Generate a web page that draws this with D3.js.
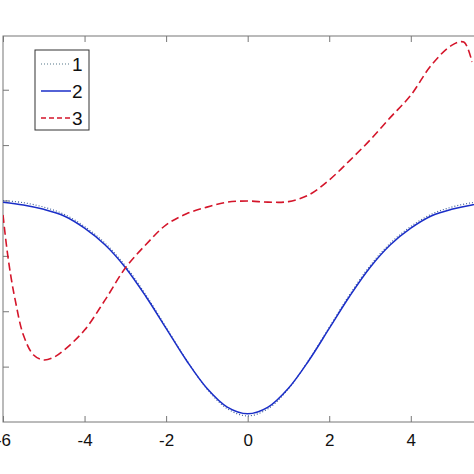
<!DOCTYPE html>
<html><head><meta charset="utf-8">
<script src="https://cdn.jsdelivr.net/npm/d3@7"></script>
<style>body{margin:0;background:#fff}svg{font-family:"Liberation Sans",Arial,sans-serif}</style>
</head><body><svg id="c" width="474" height="474"></svg>
<script>
var xs1 = [-6,-5.5,-5,-4.5,-4,-3.5,-3,-2.5,-2,-1.5,-1,-0.5,0,0.5,1,1.5,2,2.5,3,3.5,4,4.5,5,5.5,6];
var series1 = [4.0,3.96,3.88,3.75,3.53,3.23,2.82,2.30,1.71,1.12,0.60,0.24,0.11,0.24,0.60,1.12,1.71,2.30,2.82,3.23,3.53,3.75,3.88,3.96,4.0];
var series2 = [3.97,3.92,3.84,3.72,3.50,3.20,2.79,2.27,1.69,1.11,0.61,0.27,0.15,0.27,0.61,1.11,1.69,2.27,2.79,3.20,3.50,3.72,3.84,3.92,3.96];
var xs3 = [-6,-5.9,-5.8,-5.7,-5.5,-5.25,-5,-4.75,-4.5,-4,-3.5,-3,-2.5,-2,-1.5,-1,-0.5,0,0.5,1,1.5,2,2.5,3,3.5,4,4.5,5,5.3,5.5];
var series3 = [3.74,3.1,2.6,2.2,1.57,1.21,1.12,1.17,1.3,1.66,2.2,2.78,3.2,3.56,3.76,3.88,3.97,3.99,3.97,3.98,4.1,4.37,4.72,5.09,5.5,5.9,6.44,6.8,6.86,6.5];
var legendLabels = ['1','2','3'];

var svg = d3.select('#c');
var m = {l: 3, r: 0, t: 36, b: 52};
var w = 474 - m.l - m.r, h = 474 - m.t - m.b;
var x = d3.scaleLinear().domain([-6, 5.55]).range([0, w]);
var y = d3.scaleLinear().domain([0, 6.97]).range([h, 0]);
var g = svg.append('g').attr('transform', 'translate(' + m.l + ',' + m.t + ')');

g.append('rect').attr('width', w + 10).attr('height', h).attr('fill', 'none').attr('stroke', '#777');
var xa = g.append('g').attr('transform', 'translate(0,' + h + ')')
    .call(d3.axisBottom(x).tickValues([-6,-4,-2,0,2,4]).tickSize(-6).tickPadding(12)
        .tickFormat(function (d) { return String(d); }));
g.append('g').call(d3.axisTop(x).tickValues([-6,-4,-2,0,2,4]).tickSize(-6).tickFormat(''));
g.append('g').call(d3.axisLeft(y).tickValues([1,2,3,4,5,6]).tickSize(-6).tickFormat(''));
g.selectAll('.domain').remove();
g.selectAll('.tick line').attr('stroke', '#777');
xa.selectAll('text').attr('font-size', 17).attr('fill', '#111')
    .attr('font-family', '"Liberation Sans",Arial,sans-serif');

var line = function (xv) {
    return d3.line().x(function (d, i) { return x(xv[i]); }).y(function (d) { return y(d); }).curve(d3.curveCatmullRom);
};
svg.append('clipPath').attr('id', 'cl').append('rect').attr('width', w).attr('height', h);
var pg = g.append('g').attr('clip-path', 'url(#cl)');
pg.append('path').datum(series1).attr('d', line(xs1)).attr('fill', 'none').attr('stroke', '#3a5a9a').attr('stroke-width', 1.2).attr('stroke-dasharray', '1,2');
pg.append('path').datum(series2).attr('d', line(xs1)).attr('fill', 'none').attr('stroke', '#1a2ec8').attr('stroke-width', 1.5);
pg.append('path').datum(series3).attr('d', line(xs3)).attr('fill', 'none').attr('stroke', '#d4152a').attr('stroke-width', 1.6).attr('stroke-dasharray', '8,4');

// legend
var lg = g.append('g').attr('transform', 'translate(32,14)');
lg.append('rect').attr('width', 54).attr('height', 80).attr('fill', '#fff').attr('stroke', '#333');
var styles = [['#557788', '1,2', 1.2], ['#1a2ec8', null, 1.5], ['#d4152a', '5,3', 1.6]];
legendLabels.forEach(function (t, i) {
    var yy = 14 + i * 27;
    lg.append('line').attr('x1', 6).attr('x2', 36).attr('y1', yy).attr('y2', yy)
        .attr('stroke', styles[i][0]).attr('stroke-width', styles[i][2]).attr('stroke-dasharray', styles[i][1]);
    lg.append('text').attr('x', 37).attr('y', yy + 7).attr('font-size', 19).attr('fill', '#111').text(t);
});
</script></body></html>
